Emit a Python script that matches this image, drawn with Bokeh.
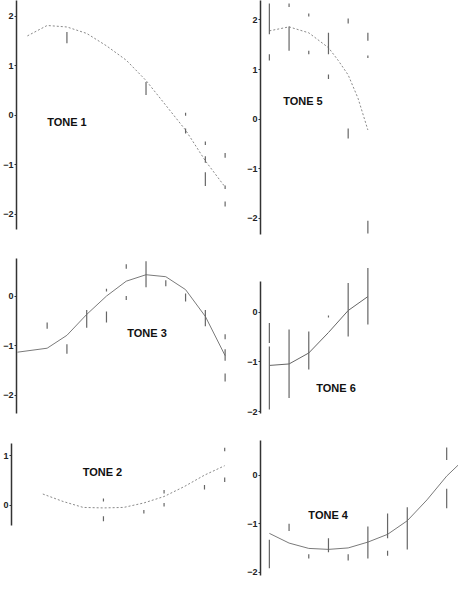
from bokeh.plotting import figure
from bokeh.models import FixedTicker, Range1d
from bokeh.layouts import column, row
from bokeh.embed import file_html
from bokeh.resources import INLINE
from bokeh.core.properties import value

# ---------------- data (x = position index, y = normalised pitch) ----------------
tone1_x = [0, 1, 2, 3, 4, 5, 6, 7, 8, 9, 10]
tone1_y = [1.60, 1.81, 1.78, 1.65, 1.40, 1.11, 0.70, 0.20, -0.30, -0.92, -1.45]
tone1_bar_x = [2, 6, 8, 8, 9, 9, 9, 10, 10, 10]
tone1_bar_lo = [1.45, 0.41, -0.01, -0.37, -0.60, -0.96, -1.43, -0.86, -1.49, -1.84]
tone1_bar_hi = [1.68, 0.67, 0.05, -0.27, -0.53, -0.83, -1.15, -0.76, -1.42, -1.74]

tone5_x = [0, 1, 2, 3, 3.5, 4, 4.5, 5]
tone5_y = [1.78, 1.86, 1.74, 1.44, 1.18, 0.89, 0.42, -0.22]
tone5_bar_x = [0, 0, 1, 1, 2, 2, 3, 3, 4, 4, 5, 5, 5]
tone5_bar_lo = [1.71, 1.18, 2.26, 1.38, 2.07, 1.31, 1.31, 0.81, 1.93, -0.39, 1.58, 1.23, -2.31]
tone5_bar_hi = [2.33, 1.31, 2.33, 1.87, 2.13, 1.38, 1.74, 0.90, 2.03, -0.19, 1.74, 1.28, -2.05]

tone3_x = [-0.5, 1, 2, 3, 4, 5, 6, 7, 8, 9, 10]
tone3_y = [-1.13, -1.05, -0.79, -0.37, 0.00, 0.30, 0.43, 0.39, 0.13, -0.41, -1.20]
tone3_bar_x = [1, 2, 3, 4, 4, 5, 5, 6, 7, 8, 9, 10, 10, 10]
tone3_bar_lo = [-0.66, -1.16, -0.64, 0.09, -0.53, 0.55, -0.08, 0.18, 0.20, -0.11, -0.61, -0.87, -1.30, -1.72]
tone3_bar_hi = [-0.53, -0.97, -0.28, 0.15, -0.31, 0.64, 0.00, 0.70, 0.32, 0.05, -0.28, -0.77, -1.07, -1.56]

tone6_x = [0, 1, 2, 3, 4, 5]
tone6_y = [-1.07, -1.04, -0.82, -0.41, 0.03, 0.31]
tone6_bar_x = [0, 0, 1, 2, 3, 4, 5]
tone6_bar_lo = [-0.62, -1.95, -1.72, -1.15, -0.11, -0.49, -0.25]
tone6_bar_hi = [-0.22, -0.69, -0.35, -0.39, -0.07, 0.58, 0.88]

tone2_x = [1, 2, 3, 4, 5, 6, 7, 8, 9, 10]
tone2_y = [0.23, 0.08, -0.04, -0.05, -0.04, 0.05, 0.18, 0.38, 0.61, 0.80]
tone2_bar_x = [4, 4, 6, 7, 7, 9, 10, 10]
tone2_bar_lo = [0.08, -0.32, -0.16, 0.24, -0.02, 0.32, 1.09, 0.47]
tone2_bar_hi = [0.14, -0.22, -0.09, 0.31, 0.05, 0.41, 1.16, 0.56]

tone4_x = [0, 1, 2, 3, 4, 5, 6, 7, 8, 9, 10]
tone4_y = [-1.20, -1.40, -1.51, -1.53, -1.50, -1.38, -1.22, -0.94, -0.51, -0.02, 0.37]
tone4_bar_x = [0, 1, 2, 3, 4, 5, 6, 6, 7, 9, 9]
tone4_bar_lo = [-1.92, -1.15, -1.72, -1.59, -1.76, -1.72, -1.30, -1.66, -1.53, 0.31, -0.68]
tone4_bar_hi = [-1.33, -1.00, -1.63, -1.30, -1.63, -1.06, -0.79, -1.56, -0.66, 0.57, -0.28]

labels = ["TONE 1", "TONE 5", "TONE 3", "TONE 6", "TONE 2", "TONE 4"]


def panel(w, h, xr, yr, bounds, ticks, cx, cy, bx, blo, bhi, label, lx, ly, dash, lcol):
    p = figure(width=w, height=h, x_range=Range1d(*xr), y_range=Range1d(*yr),
               x_axis_location=None, output_backend="svg", toolbar_location=None)
    p.min_border_top = 0
    p.min_border_bottom = 0
    p.min_border_right = 0
    p.min_border_left = 11
    p.outline_line_color = None
    p.grid.visible = False
    p.background_fill_color = "white"
    ax = p.yaxis[0]
    ax.ticker = FixedTicker(ticks=ticks)
    ax.bounds = bounds
    ax.axis_line_color = "#333333"
    ax.axis_line_width = 1.5
    ax.major_tick_out = 2
    ax.major_tick_in = 0
    ax.major_tick_line_color = "#333333"
    ax.minor_tick_out = 0
    ax.minor_tick_in = 0
    ax.major_label_standoff = 1
    ax.major_label_text_font = "Liberation Sans"
    ax.major_label_text_font_style = "bold"
    ax.major_label_text_font_size = "9px"
    ax.major_label_text_color = "#222222"
    p.line(cx, cy, line_color=lcol, line_width=1, line_dash=dash)
    p.segment(x0=bx, y0=blo, x1=bx, y1=bhi, line_color="#666666", line_width=1.2)
    p.text(x=[lx], y=[ly], text=[label], text_font=value("Liberation Sans"),
           text_font_style="bold", text_font_size="11px", text_baseline="middle",
           text_align="left", text_color="#111111")
    return p


LW, RW = 244, 214
H1, H2, H3 = 243, 185, 150
LXR = (-0.55, 10.98)
RXR = (-0.45, 9.6)

p1 = panel(LW, H1, LXR, (-2.588, 2.314), (-2.3, 2.31), [-2, -1, 0, 1, 2],
           tone1_x, tone1_y, tone1_bar_x, tone1_bar_lo, tone1_bar_hi,
           labels[0], 1.0, -0.14, "2 2", "#8a8a8a")
p5 = panel(RW, H1, RXR, (-2.510, 2.392), (-2.33, 2.39), [-2, -1, 0, 1, 2],
           tone5_x, tone5_y, tone5_bar_x, tone5_bar_lo, tone5_bar_hi,
           labels[1], 0.7, 0.37, "2 2", "#8a8a8a")
p3 = panel(LW, H2, LXR, (-2.667, 1.059), (-2.37, 0.76), [-2, -1, 0],
           tone3_x, tone3_y, tone3_bar_x, tone3_bar_lo, tone3_bar_hi,
           labels[2], 5.05, -0.75, "solid", "#7a7a7a")
p6 = panel(RW, H2, RXR, (-2.333, 1.373), (-2.04, 0.61), [-2, -1, 0],
           tone6_x, tone6_y, tone6_bar_x, tone6_bar_lo, tone6_bar_hi,
           labels[3], 2.38, -1.53, "solid", "#666666")
p2 = panel(LW, H3, LXR, (-1.471, 1.549), (-0.41, 1.24), [0, 1],
           tone2_x, tone2_y, tone2_bar_x, tone2_bar_lo, tone2_bar_hi,
           labels[4], 2.97, 0.67, "2 2", "#8a8a8a")
p4 = panel(RW, H3, RXR, (-2.13, 0.961), (-2.06, 0.71), [-2, -1, 0],
           tone4_x, tone4_y, tone4_bar_x, tone4_bar_lo, tone4_bar_hi,
           labels[5], 1.98, -0.82, "solid", "#7a7a7a")

layout = column(row(p1, p5), row(p3, p6), row(p2, p4))

open("out.html", "w").write(file_html(layout, INLINE))
